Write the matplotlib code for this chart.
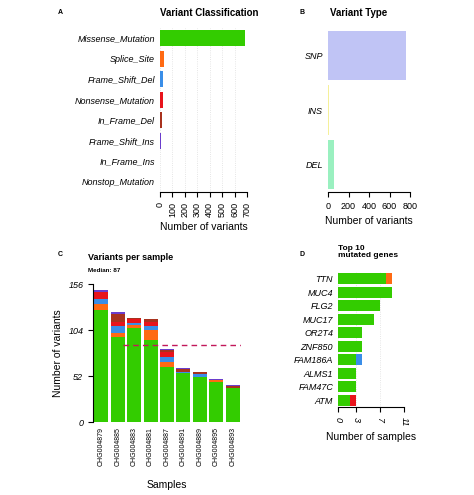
import matplotlib
matplotlib.use("Agg")
import matplotlib.pyplot as plt
import numpy as np

plt.rcParams['font.family'] = ['Liberation Sans', 'DejaVu Sans']

classes = ["Missense_Mutation", "Splice_Site", "Frame_Shift_Del", "Nonsense_Mutation",
           "In_Frame_Del", "Frame_Shift_Ins", "In_Frame_Ins", "Nonstop_Mutation"]
class_counts = [680, 35, 28, 22, 16, 6, 4, 1]
class_colors = ["#33CC00", "#FF6A13", "#3A8EE8", "#E8141C", "#A8321E", "#6A3DCC", "#E0559A", "#A6CEE3"]

vtypes = ["SNP", "INS", "DEL"]
vtype_counts = [760, 6, 60]
vtype_colors = ["#C0C4F5", "#F5F09A", "#9AF0C0"]

samples = ["CHG004879", "CHG004885", "CHG004883", "CHG004881", "CHG004887",
           "CHG004891", "CHG004889", "CHG004895", "CHG004893"]
# stacked: green, orange, blue, red, brown, purple
s_green = [127, 96, 106, 93, 62, 55, 51, 45, 38]
s_orange = [6, 5, 4, 11, 6, 0, 0, 2, 0]
s_blue = [6, 8, 2, 4, 6, 2, 3, 0, 0]
s_red = [8, 4, 4, 5, 5, 0, 0, 0, 0]
s_brown = [0, 9, 2, 3, 2, 3, 2, 1, 3]
s_purple = [2, 2, 0, 0, 2, 1, 1, 1, 1]
median_val = 87

genes = ["TTN", "MUC4", "FLG2", "MUC17", "OR2T4", "ZNF850", "FAM186A", "ALMS1", "FAM47C", "ATM"]
g_green = [8, 9, 7, 6, 4, 4, 3, 3, 3, 2]
g_other = [1, 0, 0, 0, 0, 0, 1, 0, 0, 1]
g_other_col = ["#FF6A13", None, None, None, None, None, "#3A8EE8", None, None, "#E8141C"]

W, H = 474, 495
fig = plt.figure(figsize=(W/100, H/100), dpi=100)
def ax_px(x0, y0, x1, y1):
    return fig.add_axes([x0/W, 1-y1/H, (x1-x0)/W, (y1-y0)/H])

fs = 6.5
# Panel A
a = ax_px(160, 28, 247, 192)
y = np.arange(len(classes))
a.barh(y, class_counts, color=class_colors, height=0.8)
a.set_ylim(len(classes)-0.5, -0.5)
a.set_xlim(0, 700)
a.set_xticks(range(0, 701, 100))
a.set_xticklabels([str(v) for v in range(0, 701, 100)], rotation=90, fontsize=fs)
a.set_yticks(y); a.set_yticklabels(classes, fontsize=fs, style='italic')
for s in ['top', 'right', 'left']: a.spines[s].set_visible(False)
a.tick_params(axis='y', length=0)
a.set_xlabel("Number of variants", fontsize=7.5)
a.grid(axis='x', color='#dddddd', linestyle=':', linewidth=0.6); a.set_axisbelow(True)
fig.text(160/W, 1-13/H, "Variant Classification", fontsize=7, fontweight='bold', va='center')
fig.text(58/W, 1-13/H, "A", fontsize=5, fontweight='bold', va='center')

# Panel B
b = ax_px(328, 28, 410, 192)
yb = np.arange(len(vtypes))
b.barh(yb, vtype_counts, color=vtype_colors, height=0.9)
b.set_ylim(len(vtypes)-0.5, -0.5)
b.set_xlim(0, 800)
b.set_xticks(range(0, 801, 200))
b.set_xticklabels([str(v) for v in range(0, 801, 200)], fontsize=fs)
b.set_yticks(yb); b.set_yticklabels(vtypes, fontsize=fs, style='italic')
for s in ['top', 'right', 'left']: b.spines[s].set_visible(False)
b.tick_params(axis='y', length=0)
b.set_xlabel("Number of variants", fontsize=7.5)
fig.text(330/W, 1-13/H, "Variant Type", fontsize=7, fontweight='bold', va='center')
fig.text(300/W, 1-13/H, "B", fontsize=5, fontweight='bold', va='center')

# Panel C
c = ax_px(93, 284, 241, 422)
xs = np.arange(len(samples))
bottom = np.zeros(len(samples))
for vals, col in [(s_green, class_colors[0]), (s_orange, class_colors[1]), (s_blue, class_colors[2]),
                  (s_red, class_colors[3]), (s_brown, class_colors[4]), (s_purple, class_colors[5])]:
    c.bar(xs, vals, bottom=bottom, color=col, width=0.85)
    bottom += np.array(vals)
c.axhline(median_val, xmin=0.2, xmax=1.0, color='#C2185B', linestyle=(0, (4, 3)), linewidth=1)
c.set_xlim(-0.5, len(samples)-0.5)
c.set_ylim(0, 156)
c.set_yticks([0, 52, 104, 156])
c.set_yticklabels(['0', '52', '104', '156'], fontsize=fs, style='italic')
c.set_xticks(xs); c.set_xticklabels(samples, rotation=90, fontsize=5)
c.tick_params(axis='x', length=0)
for s in ['top', 'right', 'bottom']: c.spines[s].set_visible(False)
c.set_ylabel("Number of variants", fontsize=7.5)
c.set_xlabel("Samples", fontsize=7.5, labelpad=10)
fig.text(88/W, 1-258/H, "Variants per sample", fontsize=6.5, fontweight='bold', va='center')
fig.text(88/W, 1-270/H, "Median: 87", fontsize=4.5, fontweight='bold', va='center')
fig.text(58/W, 1-255/H, "C", fontsize=5, fontweight='bold', va='center')

# Panel D
d = ax_px(338, 272, 404, 407)
yd = np.arange(len(genes))
d.barh(yd, g_green, color=class_colors[0], height=0.8)
for i, (gv, ov, oc) in enumerate(zip(g_green, g_other, g_other_col)):
    if ov:
        d.barh(i, ov, left=gv, color=oc, height=0.8)
d.set_ylim(len(genes)-0.5, -0.5)
d.set_xlim(0, 11)
d.set_xticks([0, 3, 7, 11])
d.set_xticklabels(['0', '3', '7', '11'], rotation=-90, fontsize=fs, style='italic')
d.set_yticks(yd); d.set_yticklabels(genes, fontsize=fs, style='italic')
for s in ['top', 'right', 'left']: d.spines[s].set_visible(False)
d.tick_params(axis='y', length=0)
d.grid(axis='x', color='#dddddd', linestyle=':', linewidth=0.6); d.set_axisbelow(True)
d.set_xlabel("Number of samples", fontsize=7.5)
fig.text(338/W, 1-252/H, "Top 10\nmutated genes", fontsize=6, fontweight='bold', va='center', linespacing=1.1)
fig.text(300/W, 1-255/H, "D", fontsize=5, fontweight='bold', va='center')

fig.savefig("out.png", dpi=100)
